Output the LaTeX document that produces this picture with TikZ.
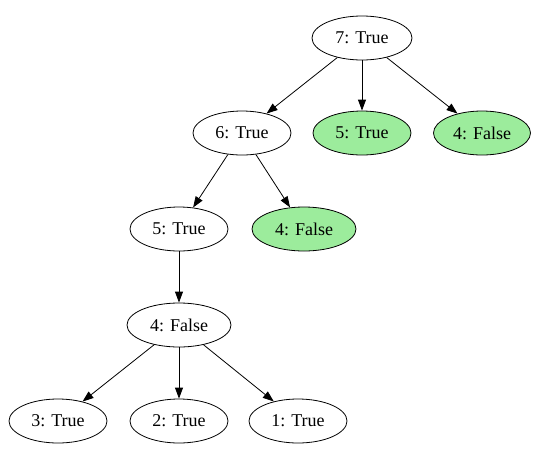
\documentclass[tikz,border=0pt]{standalone}
\usepackage{fontspec}
\setmainfont{Liberation Serif}
\usetikzlibrary{shapes.geometric,arrows.meta}
\definecolor{verdeclaro}{HTML}{9CEC9C}
\begin{document}
\begin{tikzpicture}[x=1pt, y=-1pt, >={Triangle[length=11pt,width=8pt]}, line width=0.8pt,
    no/.style={ellipse, draw, minimum width=98pt, minimum height=44pt, inner sep=1pt,
        font=\fontsize{18}{20}\selectfont},
    folha/.style={no, fill=verdeclaro},
    largo/.style={minimum width=104pt}]

    % Moldura da figura
    \useasboundingbox (0,0) rectangle (547,456);

    % Nivel 0
    \node[no, minimum width=100pt] (n7) at (362,38) {7: True};

    % Nivel 1
    \node[no] (n6) at (242,133) {6: True};
    \node[folha] (n5a) at (362,133) {5: True};
    \node[folha, minimum width=97pt] (n4a) at (482,133) {4: False};

    % Nivel 2
    \node[no] (n5) at (179,229) {5: True};
    \node[folha, largo] (n4b) at (304,229) {4: False};

    % Nivel 3
    \node[no, largo] (n4) at (179,325) {4: False};

    % Nivel 4
    \node[no] (n3) at (58,421) {3: True};
    \node[no] (n2) at (179,421) {2: True};
    \node[no] (n1) at (298,421) {1: True};

    % --- Arestas ---
    \draw[->] (n7) -- (n6);
    \draw[->] (n7) -- (n5a);
    \draw[->] (n7) -- (n4a);
    \draw[->] (n6) -- (n5);
    \draw[->] (n6) -- (n4b);
    \draw[->] (n5) -- (n4);
    \draw[->] (n4) -- (n3);
    \draw[->] (n4) -- (n2);
    \draw[->] (n4) -- (n1);

\end{tikzpicture}
\end{document}
